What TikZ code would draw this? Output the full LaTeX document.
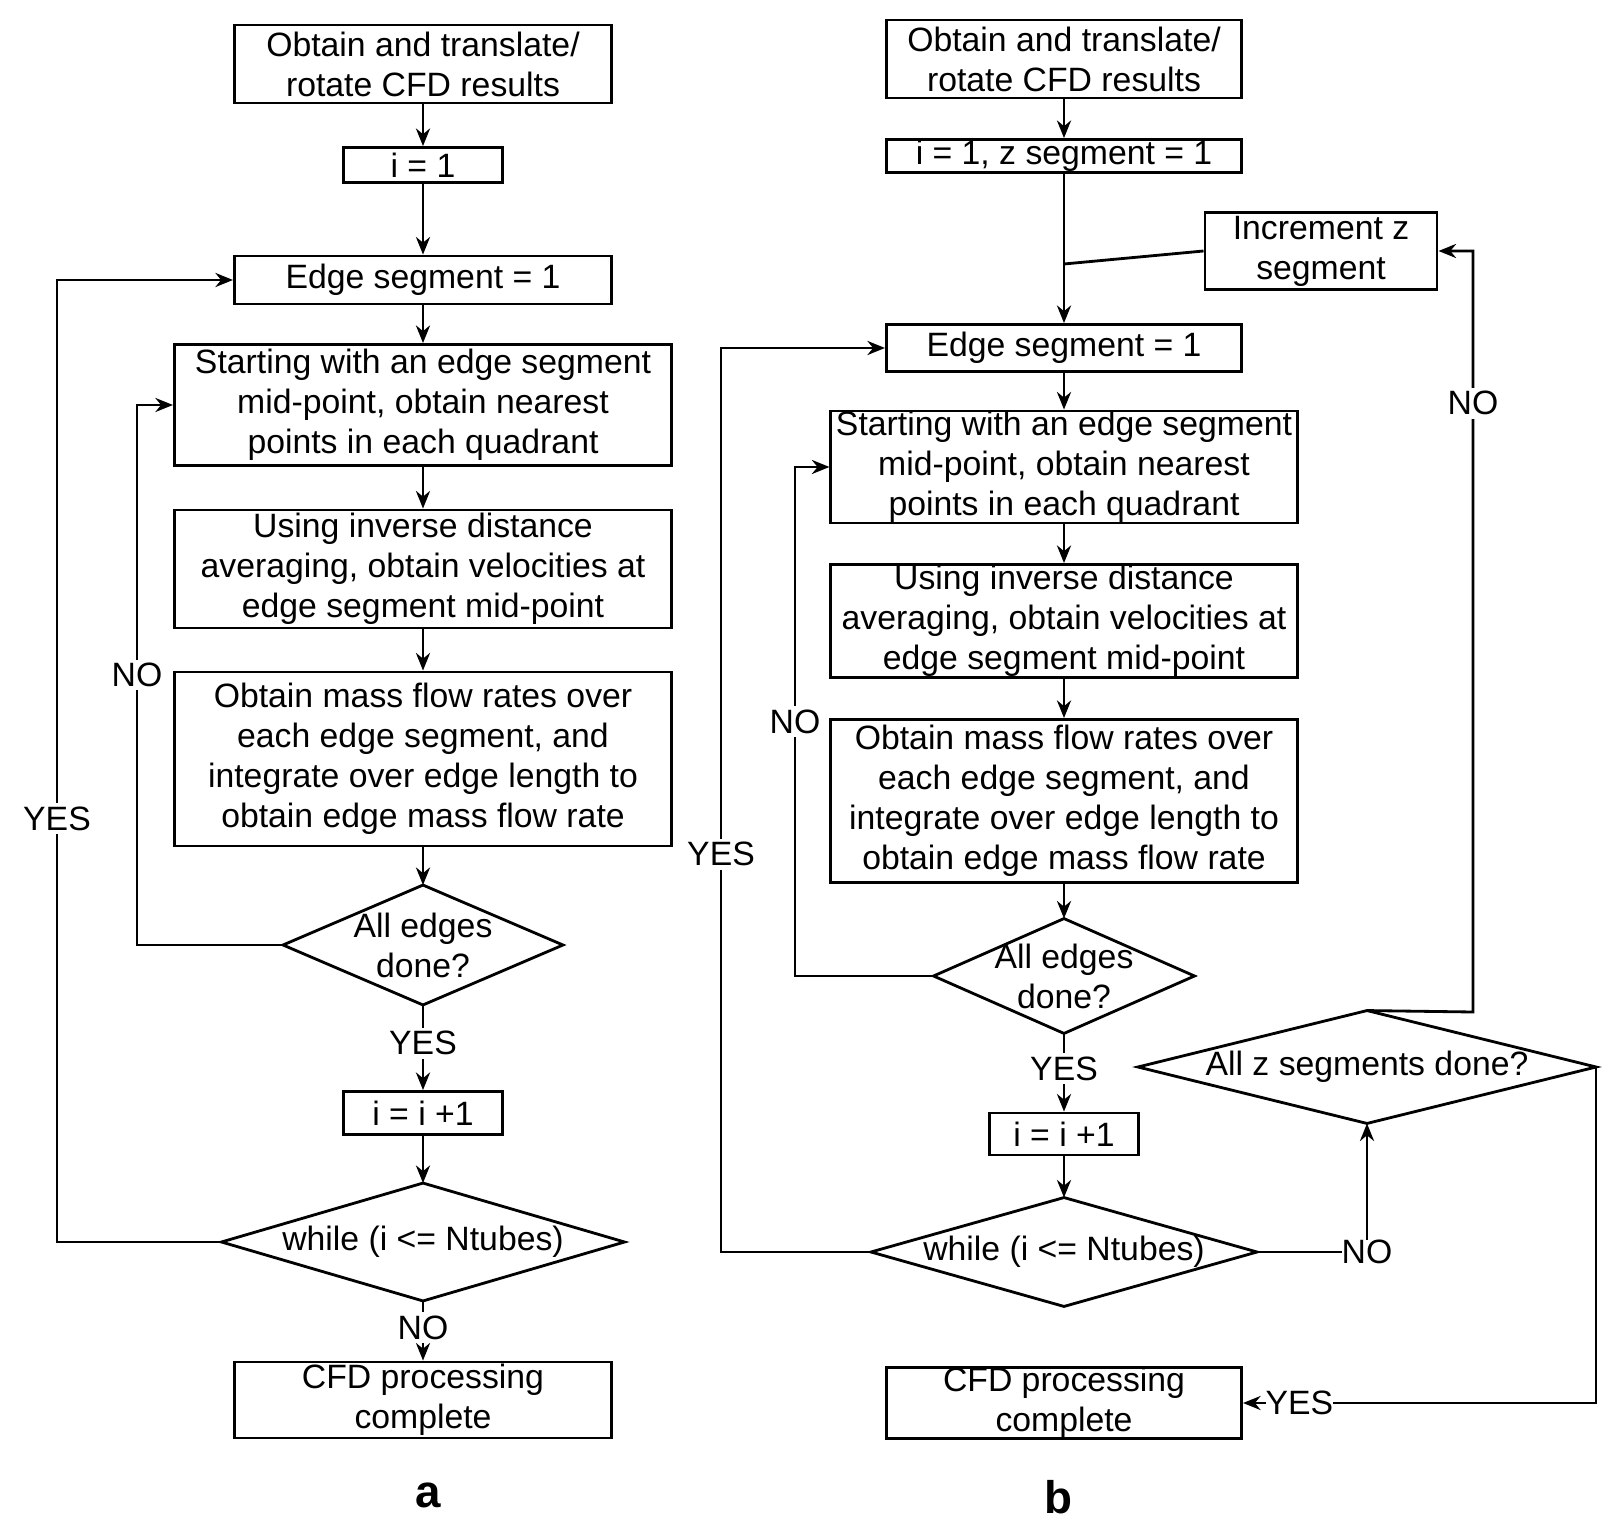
\documentclass[tikz,border=0pt]{standalone}
\usepackage{fontspec}
\setmainfont{Liberation Sans}
\usetikzlibrary{arrows.meta}
\begin{document}
\begin{tikzpicture}[x=0.01cm,y=-0.01cm,
    every node/.style={font=\fontsize{9.6}{11.4}\selectfont, align=center},
    box/.style={draw, line width=0.8pt, inner sep=0pt},
    dia/.style={inner sep=0pt},
    lbl/.style={fill=white, inner sep=1pt},
    >={Stealth[length=5pt,width=4pt]}, line width=0.8pt]
  \useasboundingbox (0,0) rectangle (1603,1522);
  % panel a
  \node (a1) at (423,64) [box, minimum width=3.77cm, minimum height=0.78cm] {Obtain and translate/\\rotate CFD results};
  \node (a2) at (423,165) [box, minimum width=1.59cm, minimum height=0.35cm] {i = 1};
  \node (a3) at (423,280) [box, minimum width=3.77cm, minimum height=0.48cm] {Edge segment = 1};
  \node (a4) at (423,405) [box, minimum width=4.97cm, minimum height=1.21cm] {Starting with an edge segment\\mid-point, obtain nearest\\points in each quadrant};
  \node (a5) at (423,569) [box, minimum width=4.97cm, minimum height=1.18cm] {Using inverse distance\\averaging, obtain velocities at\\edge segment mid-point};
  \node (a6) at (423,759) [box, minimum width=4.97cm, minimum height=1.74cm] {Obtain mass flow rates over\\each edge segment, and\\integrate over edge length to\\obtain edge mass flow rate};
  \node (a7) at (423,945) [dia, minimum width=2.77cm, minimum height=1.17cm] {All edges\\done?};
  \node (a8) at (423,1113) [box, minimum width=1.59cm, minimum height=0.43cm] {i = i +1};
  \node (a9) at (423,1242) [dia, minimum width=4.00cm, minimum height=1.15cm] {while (i <= Ntubes)};
  \node (a10) at (423,1400) [box, minimum width=3.77cm, minimum height=0.76cm] {CFD processing\\complete};
  \node (la) at (428,1495) {\fontsize{13}{15}\selectfont\bfseries a};
  % panel b
  \node (b1) at (1064,59) [box, minimum width=3.55cm, minimum height=0.78cm] {Obtain and translate/\\rotate CFD results};
  \node (b2) at (1064,156) [box, minimum width=3.55cm, minimum height=0.33cm] {i = 1, z segment = 1};
  \node (b3) at (1064,348) [box, minimum width=3.55cm, minimum height=0.47cm] {Edge segment = 1};
  \node (bz) at (1321,251) [box, minimum width=2.32cm, minimum height=0.77cm] {Increment z\\segment};
  \node (b4) at (1064,467) [box, minimum width=4.66cm, minimum height=1.12cm] {Starting with an edge segment\\mid-point, obtain nearest\\points in each quadrant};
  \node (b5) at (1064,621) [box, minimum width=4.66cm, minimum height=1.13cm] {Using inverse distance\\averaging, obtain velocities at\\edge segment mid-point};
  \node (b6) at (1064,801) [box, minimum width=4.66cm, minimum height=1.63cm] {Obtain mass flow rates over\\each edge segment, and\\integrate over edge length to\\obtain edge mass flow rate};
  \node (b7) at (1064,976) [dia, minimum width=2.58cm, minimum height=1.12cm] {All edges\\done?};
  \node (b8) at (1064,1134) [box, minimum width=1.49cm, minimum height=0.42cm] {i = i +1};
  \node (b9) at (1064,1252) [dia, minimum width=3.83cm, minimum height=1.06cm] {while (i <= Ntubes)};
  \node (bzd) at (1367,1067) [dia, minimum width=4.55cm, minimum height=1.10cm] {All z segments done?};
  \node (b10) at (1064,1403) [box, minimum width=3.55cm, minimum height=0.70cm] {CFD processing\\complete};
  \node (lb) at (1058,1497) {\fontsize{13}{15}\selectfont\bfseries b};
  \coordinate (bj) at (1064,264);
  % diamonds
  \foreach \d in {a7,a9,b7,b9,bzd}
    \draw (\d.west) -- (\d.north) -- (\d.east) -- (\d.south) -- cycle;
  % flow a
  \draw[->] (a1) -- (a2);
  \draw[->] (a2) -- (a3);
  \draw[->] (a3) -- (a4);
  \draw[->] (a4) -- (a5);
  \draw[->] (a5) -- (a6);
  \draw[->] (a6) -- (a7);
  \draw[->] (a7) -- node[lbl, pos=0.45] {YES} (a8);
  \draw[->] (a8) -- (a9);
  \draw[->] (a9) -- node[lbl, pos=0.45] {NO} (a10);
  \draw[->] (a7.west) -| node[lbl, pos=0.75] {NO} (137,405) -- (a4.west);
  \draw[->] (a9.west) -| node[lbl, pos=0.72] {YES} (57,280) -- (a3.west);
  % flow b
  \draw[->] (b1) -- (b2);
  \draw[->] (b2) -- (b3);
  \draw (bz.west) -- (bj);
  \draw[->] (b3) -- (b4);
  \draw[->] (b4) -- (b5);
  \draw[->] (b5) -- (b6);
  \draw[->] (b6) -- (b7);
  \draw[->] (b7) -- node[lbl, pos=0.45] {YES} (b8);
  \draw[->] (b8) -- (b9);
  \draw[->] (b7.west) -| node[lbl, pos=0.75] {NO} (795,467) -- (b4.west);
  \draw[->] (b9.west) -| node[lbl, pos=0.72] {YES} (721,348) -- (b3.west);
  \draw[->] (b9.east) -| node[lbl, pos=0.5, inner sep=0pt] {NO} (bzd.south);
  \draw[->] (bzd.north) -- (1473,1012) |- node[lbl, pos=0.4] {NO} (bz.east);
  \draw[->] (bzd.east) |- node[lbl, pos=0.97, anchor=west, inner sep=0pt] {YES} (b10.east);
\end{tikzpicture}
\end{document}
